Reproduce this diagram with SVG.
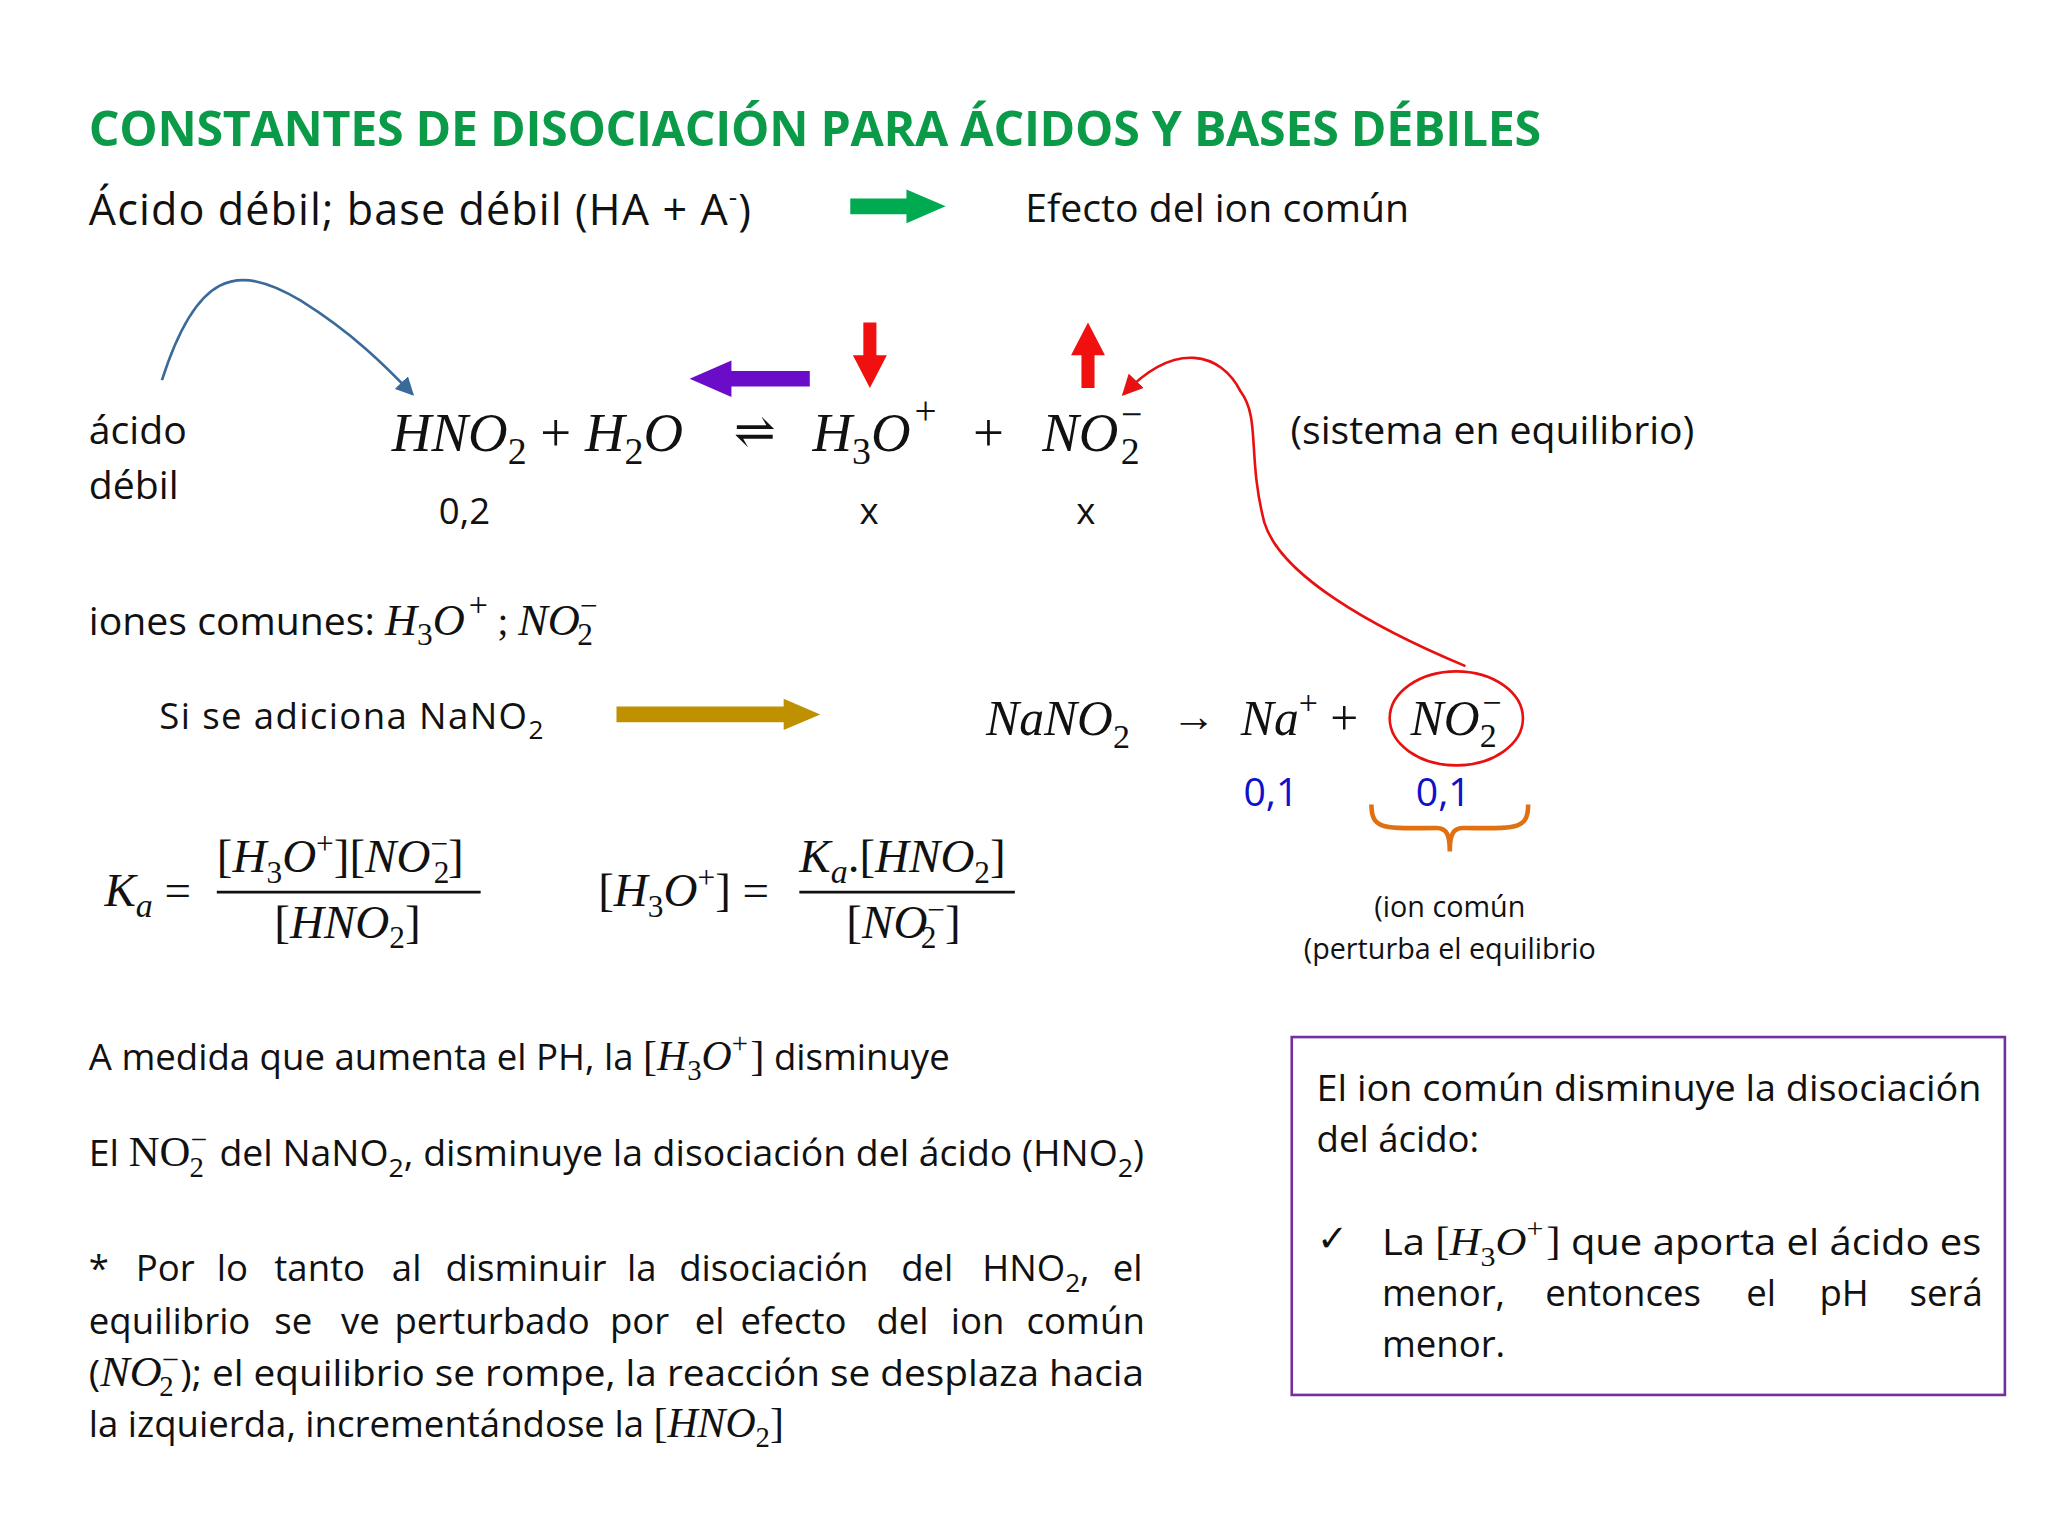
<svg xmlns="http://www.w3.org/2000/svg" width="2048" height="1536" viewBox="0 0 2048 1536">
<defs>
<style>
.t{font-family:"Open Sans","Liberation Sans",sans-serif;fill:#111}
.m{font-family:"Liberation Serif","DejaVu Serif",serif;font-style:italic;fill:#111}
.r{font-family:"Liberation Serif","DejaVu Serif",serif;fill:#111}
</style>
<marker id="ab" viewBox="0 0 10 10" refX="9" refY="5" markerWidth="7" markerHeight="7" orient="auto"><path d="M0,0L10,5L0,10z" fill="#3a6a9a"/></marker>
<marker id="ar" viewBox="0 0 10 10" refX="9" refY="5" markerWidth="8" markerHeight="8" orient="auto"><path d="M0,0L10,5L0,10z" fill="#e81010"/></marker>
</defs>
<rect width="2048" height="1536" fill="#fff"/>
<g transform="scale(1.30612)">
<g id="title"><text class="t" x="68" y="112" font-size="37" font-weight="bold" style="fill:#0a9a48" textLength="1112">CONSTANTES DE DISOCIACIÓN PARA ÁCIDOS Y BASES DÉBILES</text></g>
<g id="sub">
<text class="t" x="68" y="172" font-size="33" textLength="507">Ácido débil; base débil (HA + A<tspan dy="-14" font-size="20">-</tspan><tspan dy="14">)</tspan></text>
<text class="t" x="785" y="170" font-size="30">Efecto del ion común</text>
</g>
<g id="arrows">
<path d="M651,152H694V145L724,158L694,171V164H651Z" fill="#00aa50"/>
<path d="M620,284H560V276L528,290L560,304V296H620Z" fill="#6a0cc8"/>
<path d="M661,247H671V272H679L666,297L653,272H661Z" fill="#f01010"/>
<path d="M828,297H838V272H846L833,247L820,272H828Z" fill="#f01010"/>
<path d="M472,541H600V535L628,547L600,559V553H472Z" fill="#bf9000"/>
</g>
<g id="connectors" fill="none">
<path d="M124,291C150,210 180,200 230,230C270,255 295,280 316,302" stroke="#3a6a9a" stroke-width="2" marker-end="url(#ab)"/>
<path d="M1122,510C1050,480 980,440 968,400C955,350 965,320 950,300C935,270 900,260 860,302" stroke="#e81010" stroke-width="2" marker-end="url(#ar)"/>
<ellipse cx="1115" cy="550" rx="51" ry="36" stroke="#e81010" stroke-width="2"/>
<path d="M1050,616C1050,636 1060,634 1100,634C1108,634 1110,640 1110,652C1110,640 1112,634 1120,634C1160,634 1170,636 1170,616" stroke="#e07010" stroke-width="3.5"/>
</g>
<g id="acid"><text class="t" x="68" y="340" font-size="30">ácido</text><text class="t" x="68" y="382" font-size="30">débil</text></g>
<g id="eq">
<text class="m" x="300" y="345" font-size="42">HNO<tspan dy="10" font-size="29" font-style="normal">2</tspan><tspan dy="-10" font-style="normal"> + </tspan>H<tspan dy="10" font-size="29" font-style="normal">2</tspan><tspan dy="-10">O</tspan></text>
<text class="r" x="562" y="343" font-size="38">⇌</text>
<text class="m" x="622" y="345" font-size="42">H<tspan dy="10" font-size="29" font-style="normal">3</tspan><tspan dy="-10">O</tspan><tspan dx="3" dy="-20" font-size="30" font-style="normal">+</tspan></text>
<text class="r" x="745" y="345" font-size="42">+</text>
<text class="m" x="798" y="345" font-size="42">NO<tspan dx="2" dy="-18" font-size="29" font-style="normal">−</tspan></text>
<text class="r" x="858" y="355" font-size="29">2</text>
<text class="t" x="336" y="401" font-size="28">0,2</text>
<text class="t" x="658" y="401" font-size="28">x</text>
<text class="t" x="824" y="401" font-size="28">x</text>
<text class="t" x="988" y="340" font-size="30">(sistema en equilibrio)</text>
</g>
<g id="comunes"><text class="t" x="68" y="486" font-size="30">iones comunes: <tspan class="m" font-size="34">H</tspan><tspan class="r" dy="8" font-size="24">3</tspan><tspan class="m" dy="-8" font-size="34">O</tspan><tspan class="r" dx="3" dy="-14" font-size="26">+</tspan><tspan class="r" dy="14" font-size="30"> ; </tspan><tspan class="m" font-size="34">NO</tspan><tspan class="r" dy="-14" font-size="24">−</tspan></text>
<text class="r" x="442" y="494" font-size="24">2</text></g>
<g id="nano">
<text class="t" x="122" y="558" font-size="28" textLength="294">Si se adiciona NaNO<tspan dy="8" font-size="20">2</tspan></text>
<text class="m" x="755" y="563" font-size="38">NaNO<tspan dy="10" font-size="26" font-style="normal">2</tspan></text>
<text class="r" x="897" y="560" font-size="34">→</text>
<text class="m" x="950" y="563" font-size="38">Na<tspan dy="-16" font-size="26" font-style="normal">+</tspan><tspan dy="16" font-style="normal"> +</tspan></text>
<text class="m" x="1080" y="563" font-size="38">NO<tspan dx="2" dy="-16" font-size="26" font-style="normal">−</tspan></text>
<text class="r" x="1133" y="572" font-size="26">2</text>
<text class="t" x="952" y="617" font-size="30" style="fill:#1010c8">0,1</text>
<text class="t" x="1084" y="617" font-size="30" style="fill:#1010c8">0,1</text>
<text class="t" x="1110" y="702" font-size="22" text-anchor="middle">(ion común</text>
<text class="t" x="1110" y="734" font-size="22" text-anchor="middle">(perturba el equilibrio</text>
</g>
<g id="ka">
<text class="m" x="80" y="694" font-size="36">K<tspan dy="8" font-size="26">a</tspan><tspan dy="-8" font-style="normal"> =</tspan></text>
<text class="r" x="166" y="668" font-size="36">[<tspan class="m">H</tspan><tspan dy="8" font-size="24">3</tspan><tspan class="m" dy="-8">O</tspan><tspan dy="-14" font-size="24">+</tspan><tspan dy="14">][</tspan><tspan class="m">NO</tspan><tspan dy="-14" font-size="24">−</tspan><tspan dy="14">]</tspan></text>
<text class="r" x="332" y="676" font-size="24">2</text>
<line x1="166" y1="683" x2="368" y2="683" stroke="#111" stroke-width="2"/>
<text class="r" x="210" y="718" font-size="36">[<tspan class="m">HNO</tspan><tspan dy="8" font-size="24">2</tspan><tspan dy="-8">]</tspan></text>
<text class="r" x="458" y="694" font-size="36">[<tspan class="m">H</tspan><tspan dy="8" font-size="24">3</tspan><tspan class="m" dy="-8">O</tspan><tspan dy="-14" font-size="24">+</tspan><tspan dy="14">] =</tspan></text>
<text class="r" x="612" y="668" font-size="36"><tspan class="m">K</tspan><tspan class="m" dy="8" font-size="26">a</tspan><tspan dy="-8">.[</tspan><tspan class="m">HNO</tspan><tspan dy="8" font-size="24">2</tspan><tspan dy="-8">]</tspan></text>
<line x1="612" y1="683" x2="777" y2="683" stroke="#111" stroke-width="2"/>
<text class="r" x="648" y="718" font-size="36">[<tspan class="m">NO</tspan><tspan dy="-14" font-size="24">−</tspan><tspan dy="14">]</tspan></text>
<text class="r" x="705" y="726" font-size="24">2</text>
</g>
<g id="text1">
<text class="t" x="68" y="819" font-size="28">A medida que aumenta el PH, la <tspan class="r" font-size="32">[</tspan><tspan class="m" font-size="32">H</tspan><tspan class="r" dy="8" font-size="22">3</tspan><tspan class="m" dy="-8" font-size="32">O</tspan><tspan class="r" dy="-13" font-size="22">+</tspan><tspan class="r" dx="2" dy="13" font-size="32">]</tspan> disminuye</text>
<text class="t" x="68" y="893" font-size="28" textLength="808" lengthAdjust="spacingAndGlyphs">El <tspan class="r" font-size="32">NO</tspan><tspan class="r" dy="-13" font-size="22">−</tspan><tspan dx="2" dy="13"> del NaNO</tspan><tspan dy="8" font-size="20">2</tspan><tspan dy="-8">, disminuye la disociación del ácido (HNO</tspan><tspan dy="8" font-size="20">2</tspan><tspan dy="-8">)</tspan></text>
<text class="r" x="145" y="901" font-size="22">2</text>
<text class="t" y="981" font-size="28"><tspan x="68">*</tspan><tspan x="104">Por</tspan><tspan x="166">lo</tspan><tspan x="210">tanto</tspan><tspan x="300">al</tspan><tspan x="341">disminuir</tspan><tspan x="480">la</tspan><tspan x="520">disociación</tspan><tspan x="690">del</tspan><tspan x="752">HNO</tspan><tspan dy="8" font-size="20">2</tspan><tspan dy="-8">,</tspan><tspan x="852">el</tspan></text>
<text class="t" y="1021" font-size="28"><tspan x="68">equilibrio</tspan><tspan x="210">se</tspan><tspan x="261">ve</tspan><tspan x="302">perturbado</tspan><tspan x="467">por</tspan><tspan x="532">el</tspan><tspan x="567">efecto</tspan><tspan x="671">del</tspan><tspan x="728">ion</tspan><tspan x="786">común</tspan></text>
<text class="t" x="68" y="1061" font-size="28" textLength="808" lengthAdjust="spacingAndGlyphs">(<tspan class="m" font-size="32">NO</tspan><tspan class="r" dy="-13" font-size="22">−</tspan><tspan dx="1" dy="13">); el equilibrio se rompe, la reacción se desplaza hacia</tspan></text>
<text class="r" x="122" y="1069" font-size="22">2</text>
<text class="t" x="68" y="1100" font-size="28">la izquierda, incrementándose la <tspan class="r" font-size="32">[</tspan><tspan class="m" font-size="32">HNO</tspan><tspan class="r" dy="8" font-size="22">2</tspan><tspan class="r" dy="-8" font-size="32">]</tspan></text>
</g>
<g id="box">
<rect x="989" y="794" width="546" height="274" fill="none" stroke="#7030a0" stroke-width="2"/>
<text class="t" x="1008" y="843" font-size="28" textLength="509" lengthAdjust="spacingAndGlyphs">El ion común disminuye la disociación</text>
<text class="t" x="1008" y="882" font-size="28">del ácido:</text>
<text class="r" x="1008" y="958" font-size="28">✓</text>
<text class="t" x="1058" y="961" font-size="28" textLength="459" lengthAdjust="spacingAndGlyphs">La <tspan class="r" font-size="30">[</tspan><tspan class="m" font-size="30">H</tspan><tspan class="r" dy="8" font-size="21">3</tspan><tspan class="m" dy="-8" font-size="30">O</tspan><tspan class="r" dy="-13" font-size="21">+</tspan><tspan class="r" dx="2" dy="13" font-size="30">]</tspan> que aporta el ácido es</text>
<text class="t" y="1000" font-size="28"><tspan x="1058">menor,</tspan><tspan x="1183">entonces</tspan><tspan x="1337">el</tspan><tspan x="1393">pH</tspan><tspan x="1462">será</tspan></text>
<text class="t" x="1058" y="1039" font-size="28">menor.</text>
</g>
</g>
</svg>
